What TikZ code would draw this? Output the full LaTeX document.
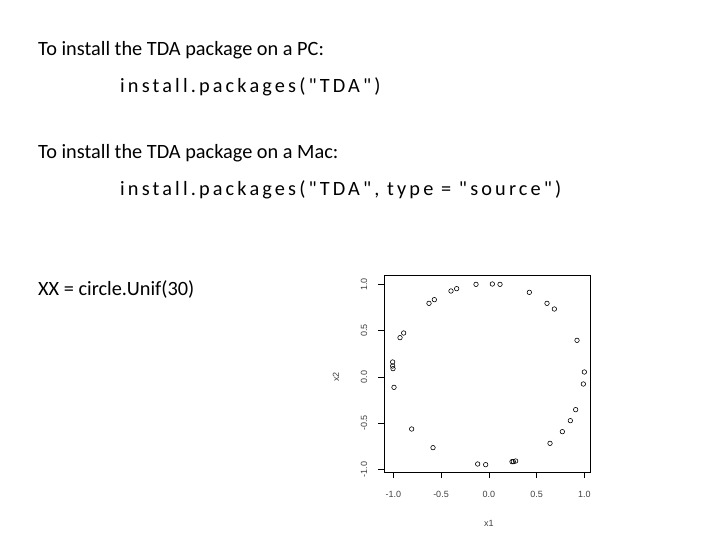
\documentclass[tikz,border=0pt]{standalone}
\usepackage{fontspec}
\setmainfont{Carlito}[Ligatures=TeXOff]
\newfontfamily\spacedfont{Carlito}[Ligatures=TeXOff,LetterSpace=15.5]
\newfontfamily\plotfont{Liberation Sans}
\begin{document}
\begin{tikzpicture}[x=1pt,y=-1pt,
  txt/.style={anchor=west,inner sep=0pt,font=\fontsize{20.3}{22}\selectfont},
  code/.style={anchor=west,inner sep=0pt,font=\spacedfont\fontsize{20.3}{22}\selectfont},
  pt/.style={draw,line width=0.6pt,circle,minimum size=4.5pt,inner sep=0pt},
  lab/.style={font=\plotfont\fontsize{9}{10}\selectfont,text=black!75,inner sep=0pt}]
\useasboundingbox (0,0) rectangle (720,540);
\node[txt] (l1) at (38,50) {To install the TDA package on a PC:};
\node[code] (l2) at (120,87) {install.packages("TDA")};
\node[txt] (l3) at (38,153) {To install the TDA package on a Mac:};
\node[code] (l4) at (120,190) {install.packages("TDA", type = "source")};
\node[txt] (l5) at (38,289) {XX = circle.Unif(30)};
\draw[line width=0.7pt] (384,275.7) rectangle (590.7,472.3);
\foreach \x/\t in {393.3/-1.0,441/-0.5,488.8/0.0,536.5/0.5,584.3/1.0}{
  \draw[line width=0.6pt] (\x,472.3) -- (\x,478);
  \node[lab] at (\x,494) {\t};}
\foreach \y/\t in {469.3/-1.0,423/-0.5,376.8/0.0,330.5/0.5,284.3/1.0}{
  \draw[line width=0.6pt] (384,\y) -- (378,\y);
  \node[lab,rotate=90] at (364,\y) {\t};}
\node[lab] (xl) at (488.8,523) {x1};
\node[lab,rotate=90] (yl) at (336,376.8) {x2};
\foreach[count=\i] \a/\b in {468/73,517/72,540/73,393/93,410/86,628/97,327/130,343/119,681/130,703/147,240/233,251/219,771/241,218/306,219/326,218/318,793/336,790/372,222/382,767/449,751/482,727/515,275/507,690/550,339/563,473/612,497/614,576/605,587/603,580/605}{
  \node[pt] (p\i) at ({320+\a/3},{260+\b/3}) {};}
\end{tikzpicture}
\end{document}
